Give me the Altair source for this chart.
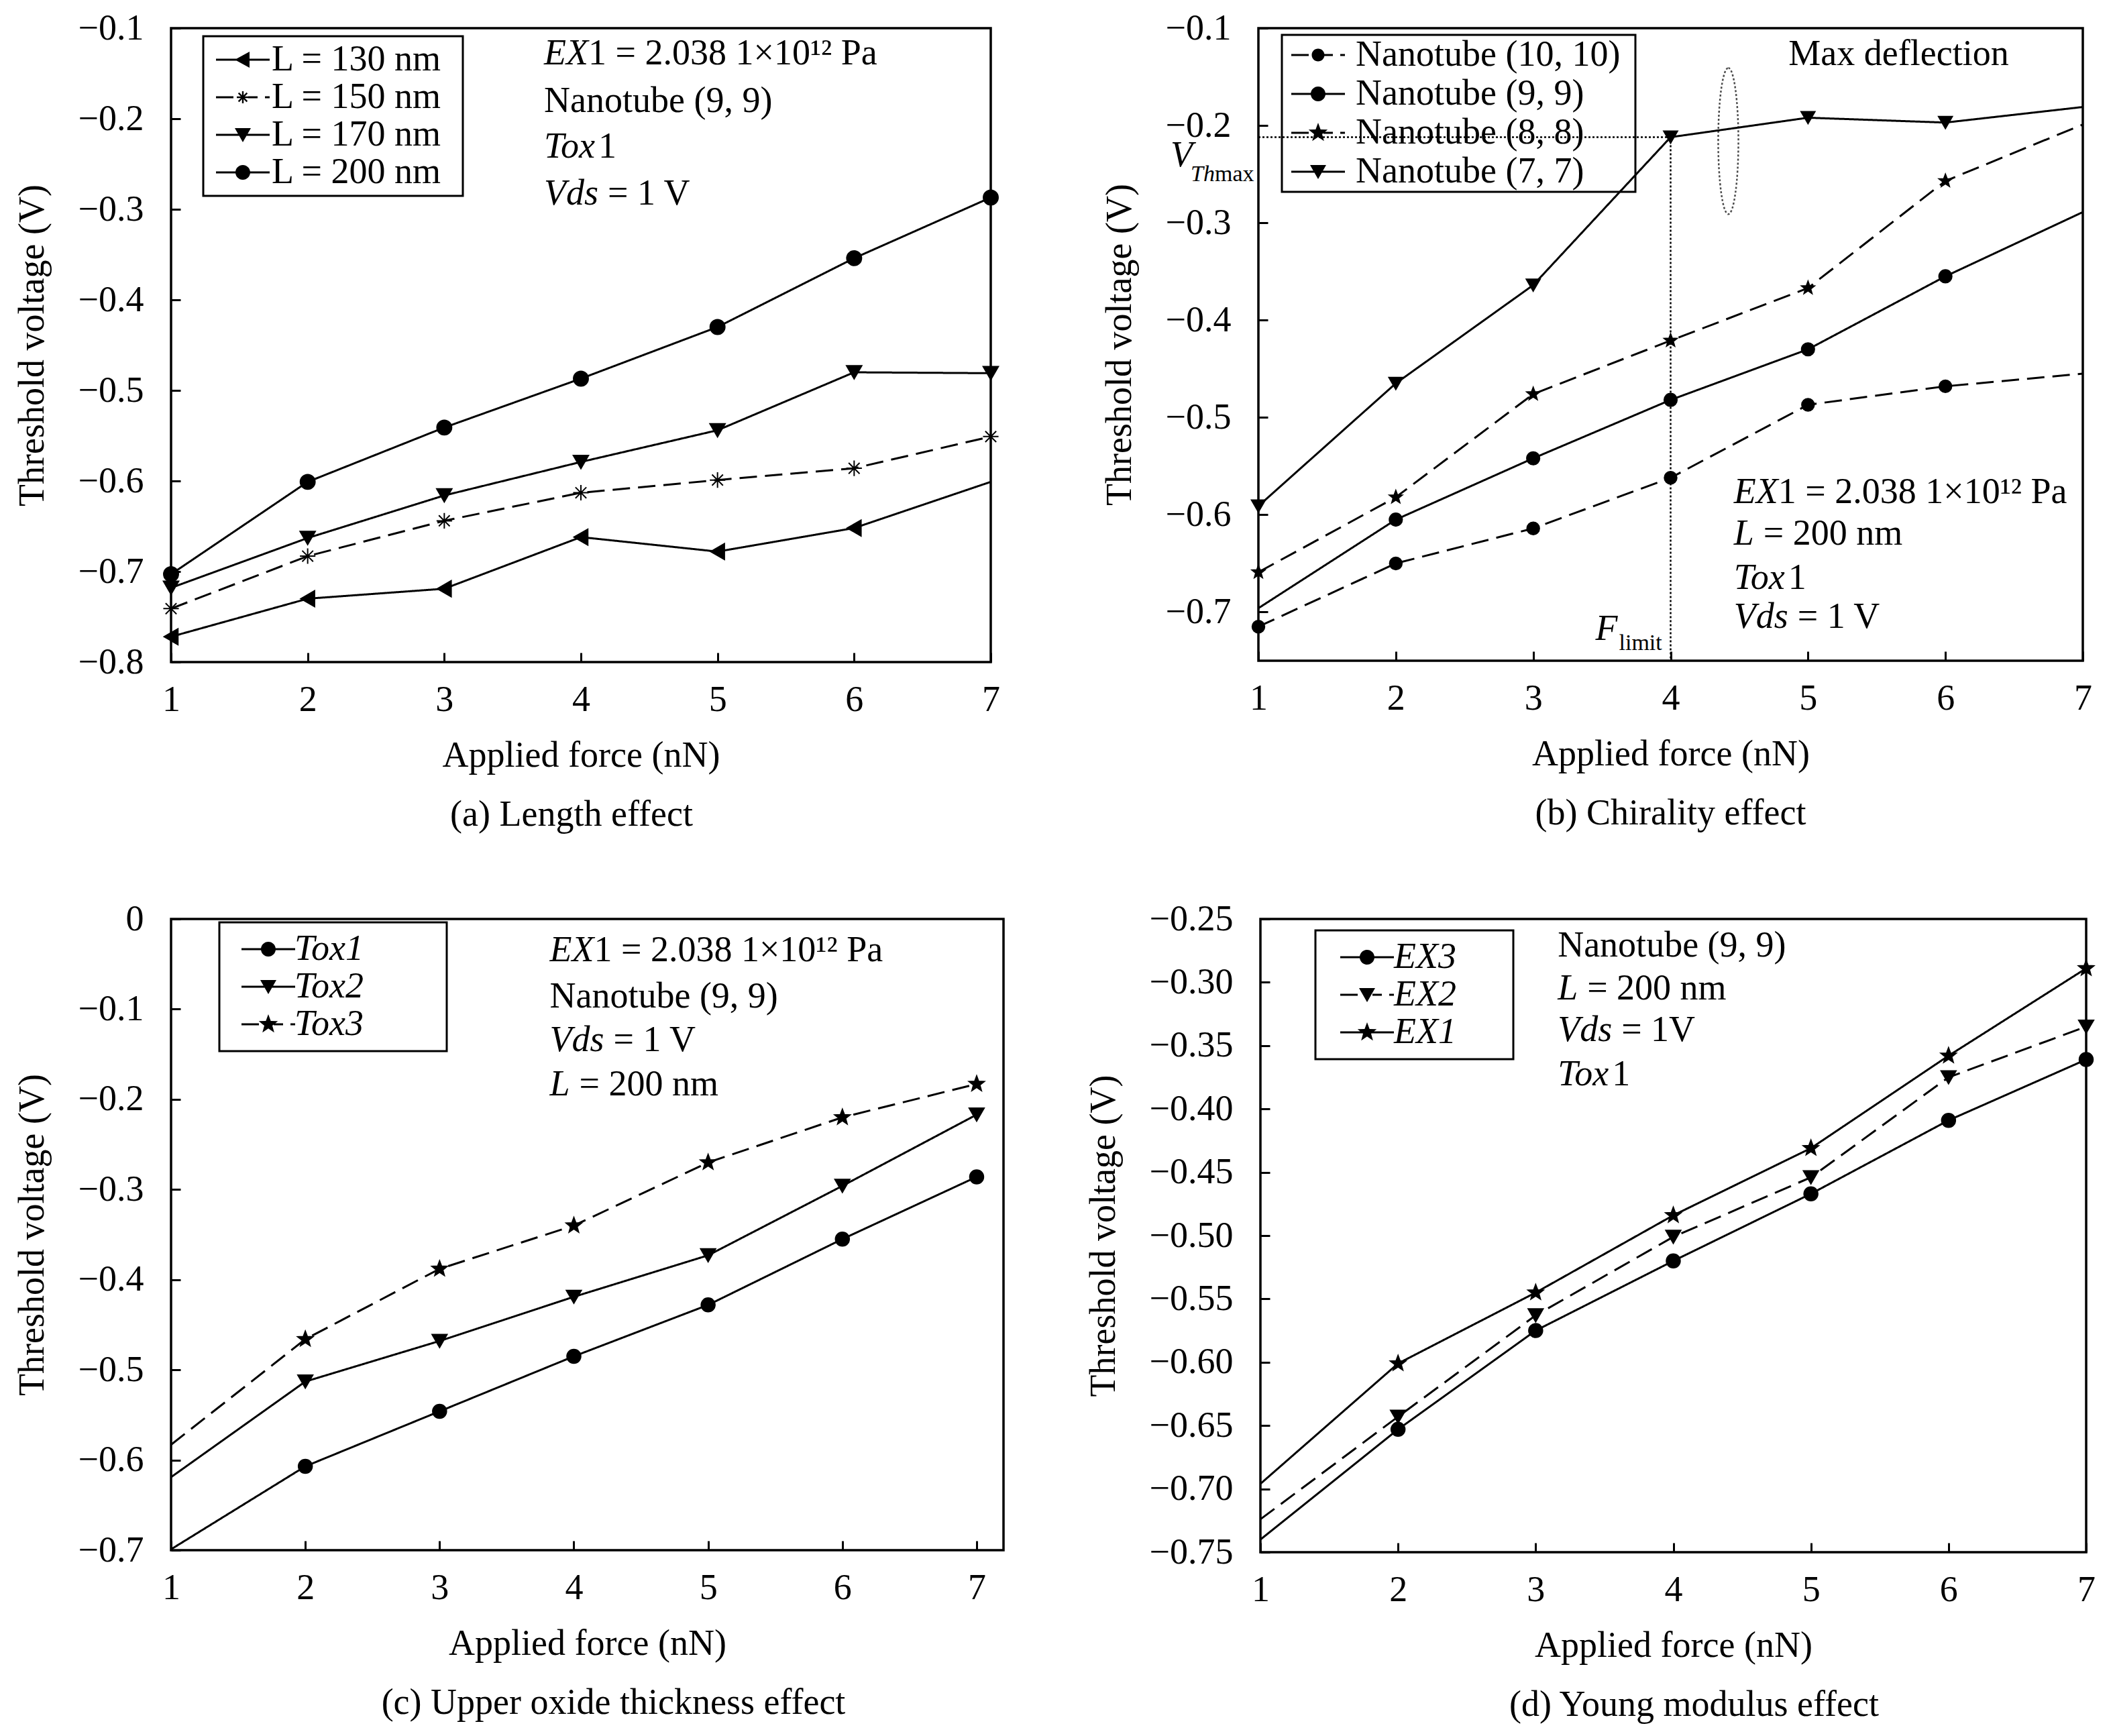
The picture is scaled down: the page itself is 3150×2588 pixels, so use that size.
import math

import altair as alt
import pandas as pd

FONT = "Liberation Serif"
FS = 54   # main text size
SUB = 34  # subscript size

FORCE = [1, 2, 3, 4, 5, 6, 7]

# ---------------- (a) Length effect ----------------
LEN_NAMES = ["L = 130 nm", "L = 150 nm", "L = 170 nm", "L = 200 nm"]
VTH_L130 = [-0.772, -0.730, -0.719, -0.662, -0.678, -0.652, -0.601]
VTH_L150 = [-0.741, -0.683, -0.644, -0.613, -0.599, -0.586, -0.551]
VTH_L170 = [-0.718, -0.663, -0.616, -0.579, -0.544, -0.480, -0.481]
VTH_L200 = [-0.703, -0.601, -0.541, -0.487, -0.430, -0.354, -0.287]
LEN_MARKED = [[1, 2, 3, 4, 5, 6], FORCE, FORCE, FORCE]
LEN_DASHED = [False, True, False, False]
LEN_TICKS = [-0.8, -0.7, -0.6, -0.5, -0.4, -0.3, -0.2, -0.1]

# ---------------- (b) Chirality effect ----------------
CHI_NAMES = ["Nanotube (10, 10)", "Nanotube (9, 9)", "Nanotube (8, 8)", "Nanotube (7, 7)"]
VTH_NT1010 = [-0.715, -0.650, -0.614, -0.562, -0.487, -0.468, -0.455]
VTH_NT99 = [-0.696, -0.605, -0.542, -0.482, -0.430, -0.355, -0.289]
VTH_NT88 = [-0.659, -0.582, -0.476, -0.421, -0.367, -0.257, -0.199]
VTH_NT77 = [-0.591, -0.465, -0.364, -0.212, -0.192, -0.197, -0.181]
CHI_MARKED = [[1, 2, 3, 4, 5, 6], [2, 3, 4, 5, 6], [1, 2, 3, 4, 5, 6], [1, 2, 3, 4, 5, 6]]
CHI_DASHED = [True, False, True, False]
CHI_TICKS = [-0.7, -0.6, -0.5, -0.4, -0.3, -0.2, -0.1]
F_LIMIT = 4
MAX_DEFLECTION_AT = (4.42, -0.216)

# ---------------- (c) Upper oxide thickness effect ----------------
TOX_NAMES = ["Tox1", "Tox2", "Tox3"]
VTH_TOX1 = [-0.699, -0.607, -0.546, -0.485, -0.428, -0.355, -0.286]
VTH_TOX2 = [-0.619, -0.513, -0.468, -0.419, -0.373, -0.296, -0.217]
VTH_TOX3 = [-0.583, -0.466, -0.388, -0.340, -0.270, -0.220, -0.183]
TOX_MARKED = [[2, 3, 4, 5, 6, 7]] * 3
TOX_DASHED = [False, False, True]
TOX_TICKS = [-0.7, -0.6, -0.5, -0.4, -0.3, -0.2, -0.1, 0]

# ---------------- (d) Young modulus effect ----------------
EX_NAMES = ["EX3", "EX2", "EX1"]
VTH_EX3 = [-0.740, -0.653, -0.575, -0.520, -0.467, -0.409, -0.361]
VTH_EX2 = [-0.724, -0.643, -0.563, -0.501, -0.454, -0.375, -0.335]
VTH_EX1 = [-0.696, -0.601, -0.545, -0.484, -0.431, -0.358, -0.289]
EX_MARKED = [[2, 3, 4, 5, 6, 7]] * 3
EX_DASHED = [False, True, False]
EX_TICKS = [-0.75, -0.70, -0.65, -0.60, -0.55, -0.50, -0.45, -0.40, -0.35, -0.30, -0.25]


# ---------------- marker geometry (SVG paths in symbol units) ----------------
def polygon(points):
    return "M" + "L".join(f"{x:.3f},{y:.3f}" for x, y in points) + "Z"


def star(r_out):
    pts = []
    for k in range(10):
        a = math.radians(-90 + 36 * k)
        r = r_out if k % 2 == 0 else r_out * 0.42
        pts.append((r * math.cos(a), r * math.sin(a)))
    return polygon(pts)


def asterisk(r):
    d = r * 0.7071
    return (f"M{-r},0H{r}M0,{-r}V{r}"
            f"M{-d:.3f},{-d:.3f}L{d:.3f},{d:.3f}M{-d:.3f},{d:.3f}L{d:.3f},{-d:.3f}")


def disc(r):
    return f"M{-r},0A{r},{r} 0 1,1 {r},0A{r},{r} 0 1,1 {-r},0Z"


def bar(x0, x1, t=0.15, angle=0.0):
    """Filled thin bar from x0 to x1 (half thickness t), rotated about the origin."""
    c, s = math.cos(math.radians(angle)), math.sin(math.radians(angle))
    corners = [(x0, -t), (x1, -t), (x1, t), (x0, t)]
    return polygon([(x * c - y * s, x * s + y * c) for x, y in corners])


def filled_asterisk(r, t=0.12):
    return "".join(bar(-r, r, t, a) for a in (0, 45, 90, 135))


STAR = star(1)
ASTERISK = asterisk(1)
ELLIPSE = "M0,-1A0.138,1 0 1,1 0,1A0.138,1 0 1,1 0,-1Z"

# legend keys: a short line with the marker in the middle (1 unit = 10 px)
KEY_SOLID = bar(-4, 4)
KEY_DASHED = bar(-4, -1.4) + bar(0.8, 2.2) + bar(3.3, 4)
KEY_TRI_LEFT = "M-1.2,0L1,-1.2L1,1.2Z"
KEY_TRI_DOWN = "M-1.2,-1L1.2,-1L0,1.1Z"
KEY_DISC = disc(1.1)
KEY_STAR = star(1.5)
KEY_AST = filled_asterisk(0.9)

SOLID = [1, 0]
DASH = [26, 12]
DOTTED = [3, 3]


def long_table(names, series, marked):
    rows = []
    for name, vals, mk in zip(names, series, marked):
        for f, v in zip(FORCE, vals):
            rows.append({"series": name, "force": f, "vth": v, "marked": f in mk})
    return pd.DataFrame(rows)


def x_axis():
    return alt.Axis(title="Applied force (nN)", values=FORCE, format="d",
                    labelFlush=False, labelOverlap=False, domain=False, grid=False,
                    tickSize=14, offset=-14, labelPadding=29, titlePadding=29)


def y_axis(ticks, fmt):
    return alt.Axis(title="Threshold voltage (V)", values=ticks, format=fmt,
                    labelFlush=False, labelOverlap=False, domain=False, grid=False,
                    tickSize=14, offset=-14, labelPadding=41, titlePadding=41)


def panel(names, series, marked, dashed, shapes, sizes, key_marks, key_reach, legend_cfg,
          ydomain, yticks, yfmt, xdomain, width, height, caption, caption_dx,
          notes, extras=None):
    df = long_table(names, series, marked)
    x = alt.X("force:Q", scale=alt.Scale(domain=xdomain, nice=False, zero=False), axis=x_axis())
    y = alt.Y("vth:Q", scale=alt.Scale(domain=ydomain, nice=False, zero=False),
              axis=y_axis(yticks, yfmt))

    lines = alt.Chart(df).mark_line(color="black", strokeWidth=3).encode(
        x=x, y=y, detail="series:N",
        strokeDash=alt.StrokeDash("series:N", legend=None, scale=alt.Scale(
            domain=names, range=[DASH if d else SOLID for d in dashed])),
    )
    points = alt.Chart(df).transform_filter("datum.marked").mark_point(
        filled=True, color="black", stroke="black", strokeWidth=2, opacity=1
    ).encode(
        x=x, y=y,
        shape=alt.Shape("series:N", legend=None, scale=alt.Scale(domain=names, range=shapes)),
        size=alt.Size("series:N", legend=None, scale=alt.Scale(domain=names, range=sizes)),
    )
    # the trailing move-to sets how far the legend frame reaches to the right
    key_paths = [(KEY_DASHED if d else KEY_SOLID) + m + f"M{key_reach},0"
                 for d, m in zip(dashed, key_marks)]
    key = alt.Chart(df).mark_point(
        filled=True, color="black", opacity=0, clip=True
    ).encode(
        x=x, y=y,
        shape=alt.Shape("series:N", scale=alt.Scale(domain=names, range=key_paths),
                        legend=alt.Legend(
                            title=None, orient="none", symbolSize=400, symbolOpacity=1,
                            symbolFillColor="black", symbolStrokeColor="black",
                            symbolStrokeWidth=0, labelLimit=2000, **legend_cfg)),
    )
    layers = [lines, points, key]
    if extras is not None:
        layers += extras(x, y)

    # annotation text, grouped by style
    groups = {}
    for f, v, text, italic, dx, size, align in notes:
        groups.setdefault((italic, dx, size, align), []).append(
            {"force": f, "vth": v, "text": text})
    for (italic, dx, size, align), rows in groups.items():
        layers.append(
            alt.Chart(pd.DataFrame(rows)).mark_text(
                font=FONT, fontSize=size, fontStyle="italic" if italic else "normal",
                align=align, baseline="middle", dx=dx, color="black",
            ).encode(x=x, y=y, text="text:N")
        )

    return alt.layer(*layers).resolve_scale(shape="independent").properties(
        width=width, height=height,
        title=alt.TitleParams(caption, orient="bottom", anchor="middle", frame="group",
                              offset=35, dx=caption_dx, font=FONT, fontSize=FS,
                              fontWeight="normal", color="black"),
    )


def info_lines(x0, ys, lines):
    """Mixed italic/upright text lines starting at data x0."""
    out = []
    for yv, parts in zip(ys, lines):
        dx = 0
        for text, italic, width in parts:
            out.append((x0, yv, text, italic, dx, FS, "left"))
            dx += width
    return out


EX_LINE = [("EX", True, 66), ("1 = 2.038 1×10¹² Pa", False, 0)]
NT_LINE = [("Nanotube (9, 9)", False, 0)]
TOX_LINE = [("Tox", True, 81), ("1", False, 0)]
VDS_LINE = [("Vds", True, 95), ("= 1 V", False, 0)]
VDS_LINE_D = [("Vds", True, 95), ("= 1V", False, 0)]
LEN_LINE = [("L", True, 44), ("= 200 nm", False, 0)]

# ---------------- panels ----------------
pa = panel(
    LEN_NAMES, [VTH_L130, VTH_L150, VTH_L170, VTH_L200], LEN_MARKED, LEN_DASHED,
    ["triangle-left", ASTERISK, "triangle-down", "circle"], [560, 480, 560, 400],
    [KEY_TRI_LEFT, KEY_AST, KEY_TRI_DOWN, KEY_DISC], 32.0,
    dict(legendX=48, legendY=12, padding=8, rowPadding=2, symbolOffset=24, labelOffset=16),
    [-0.8, -0.1], LEN_TICKS, ".1f", [1, 7], 1222, 945, "(a) Length effect", -14,
    info_lines(3.73, [-0.128, -0.181, -0.231, -0.283], [EX_LINE, NT_LINE, TOX_LINE, VDS_LINE]),
)


def chirality_extras(x, y):
    vmax = VTH_NT77[FORCE.index(F_LIMIT)]
    style = dict(color="black", strokeWidth=2.5, strokeDash=DOTTED)
    hline = alt.Chart(pd.DataFrame([{"force": FORCE[0], "force2": F_LIMIT, "vth": vmax}])
                      ).mark_rule(**style).encode(x=x, x2="force2:Q", y=y)
    vline = alt.Chart(pd.DataFrame([{"force": F_LIMIT, "vth": vmax, "vth2": -0.75}])
                      ).mark_rule(**style).encode(x=x, y=y, y2="vth2:Q")
    ring = alt.Chart(pd.DataFrame([{"force": MAX_DEFLECTION_AT[0], "vth": MAX_DEFLECTION_AT[1]}])
                     ).mark_point(shape=ELLIPSE, size=47524, filled=False, **style
                                  ).encode(x=x, y=y)
    return [hline, vline, ring]


pb_notes = info_lines(4.46, [-0.577, -0.620, -0.665, -0.705],
                      [EX_LINE, LEN_LINE, TOX_LINE, VDS_LINE])
pb_notes += [
    (5.66, -0.127, "Max deflection", False, 0, FS, "center"),
    (1, -0.231, "V", True, -131, FS, "left"),
    (1, -0.250, "Th", True, -101, SUB, "left"),
    (1, -0.250, "max", False, -65, SUB, "left"),
    (F_LIMIT, -0.7175, "F", True, -112, FS, "left"),
    (F_LIMIT, -0.732, "limit", False, -77, SUB, "left"),
]

pb = panel(
    CHI_NAMES, [VTH_NT1010, VTH_NT99, VTH_NT88, VTH_NT77], CHI_MARKED, CHI_DASHED,
    ["circle", "circle", STAR, "triangle-down"], [340, 420, 1050, 560],
    [disc(0.95), KEY_DISC, KEY_STAR, KEY_TRI_DOWN], 47,
    dict(legendX=35, legendY=10, padding=3, rowPadding=4, symbolOffset=24, labelOffset=29),
    [-0.75, -0.1], CHI_TICKS, ".1f", [1, 7], 1229, 943, "(b) Chirality effect", 0,
    pb_notes, chirality_extras,
)

pc = panel(
    TOX_NAMES, [VTH_TOX1, VTH_TOX2, VTH_TOX3], TOX_MARKED, TOX_DASHED,
    ["circle", "triangle-down", STAR], [420, 560, 850],
    [KEY_DISC, KEY_TRI_DOWN, KEY_STAR], 25.3,
    dict(legendX=72, legendY=5, padding=13, rowPadding=2, symbolOffset=33, labelOffset=12,
         labelFontStyle="italic"),
    [-0.7, 0], TOX_TICKS, ".1~f", [1, 7.2], 1241, 941,
    "(c) Upper oxide thickness effect", 39,
    info_lines(3.82, [-0.035, -0.086, -0.135, -0.184], [EX_LINE, NT_LINE, VDS_LINE, LEN_LINE]),
)

pd_ = panel(
    EX_NAMES, [VTH_EX3, VTH_EX2, VTH_EX1], EX_MARKED, EX_DASHED,
    ["circle", "triangle-down", STAR], [420, 560, 850],
    [KEY_DISC, KEY_TRI_DOWN, KEY_STAR], 20.5,
    dict(legendX=82, legendY=17, padding=13, rowPadding=2, symbolOffset=37, labelOffset=13,
         labelFontStyle="italic"),
    [-0.75, -0.25], EX_TICKS, ".2f", [1, 7], 1231, 944, "(d) Young modulus effect", 31,
    info_lines(3.16, [-0.271, -0.305, -0.338, -0.373], [NT_LINE, LEN_LINE, VDS_LINE_D, TOX_LINE]),
)

INDEPENDENT = dict(strokeDash="independent", shape="independent", size="independent")

chart = alt.vconcat(
    alt.hconcat(pa, pb, spacing=145).resolve_scale(**INDEPENDENT),
    alt.hconcat(pc, pd_, spacing=118).resolve_scale(**INDEPENDENT),
    spacing=97,
).resolve_scale(**INDEPENDENT).properties(
    padding={"left": 19, "top": 13, "right": 0, "bottom": 0},
    background="white",
).configure_view(
    stroke="black", strokeWidth=3.5,
).configure_axis(
    labelFont=FONT, labelFontSize=FS, labelColor="black",
    titleFont=FONT, titleFontSize=FS, titleFontWeight="normal", titleColor="black",
    tickColor="black", tickWidth=3,
).configure_legend(
    labelFont=FONT, labelFontSize=FS, labelColor="black",
    strokeColor="black", strokeWidth=3,
).configure_title(
    font=FONT, fontSize=FS, fontWeight="normal", color="black",
)

chart.save("out.html", embed_options={"renderer": "svg", "actions": False})
